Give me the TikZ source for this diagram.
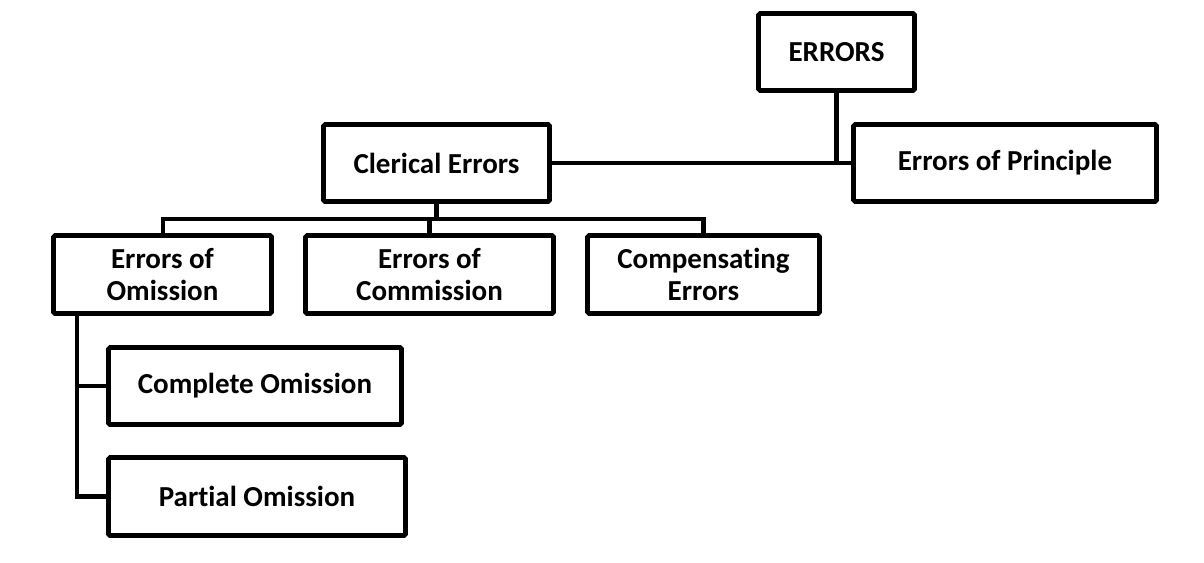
\documentclass[tikz,border=0pt]{standalone}
\usepackage{fontspec}
\setmainfont{Carlito}[Ligatures=CommonOff]
\usepackage{tikz}
\usetikzlibrary{positioning}

\tikzset{
  errbox/.style={draw=black, line width=4.6pt, rounded corners=1.5pt, fill=white,
    align=center, font=\fontsize{29}{32}\selectfont\bfseries, inner sep=0pt},
  link/.style={line width=4.4pt}
}

\begin{document}
\begin{tikzpicture}[x=1pt, y=-1pt]
  \useasboundingbox (0,0) rectangle (1204,562);
  % top level
  \node[errbox, minimum width=156pt, minimum height=77pt] (errors) at (836.5,52) {ERRORS};
  \node[errbox, minimum width=226pt, minimum height=77pt] (clerical) at (436.5,163) {Clerical Errors};
  \node[errbox, minimum width=303pt, minimum height=77pt] (principle) at (1005,163) {Errors of Principle};
  % clerical errors
  \node[errbox, minimum width=218pt, minimum height=78pt] (omission) at (162.5,274.5) {Errors of\\Omission};
  \node[errbox, minimum width=248pt, minimum height=78pt] (commission) at (429.5,274.5) {Errors of\\Commission};
  \node[errbox, minimum width=232pt, minimum height=78pt] (compens) at (703.5,274.5) {Compensating\\Errors};
  % omission
  \node[errbox, minimum width=293pt, minimum height=77pt] (complete) at (255,386) {Complete Omission};
  \node[errbox, minimum width=297pt, minimum height=78pt] (partial) at (257,496.5) {Partial Omission};
  % connectors
  \coordinate (bus) at (436,219);
  \coordinate (om) at (77,315);
  \draw[link] (clerical.east) -- (principle.west);
  \draw[link] (errors.south) -- (errors.south |- clerical.east);
  \draw[link] (clerical.south) -- (clerical.south |- bus);
  \draw[link] (omission.north -| 163,0) |- (bus) -| (compens.north);
  \draw[link] (commission.north) -- (commission.north |- bus);
  \draw[link] (omission.south -| om) |- (partial.west);
  \draw[link] (complete.west) -- (complete.west -| om);
\end{tikzpicture}
\end{document}
